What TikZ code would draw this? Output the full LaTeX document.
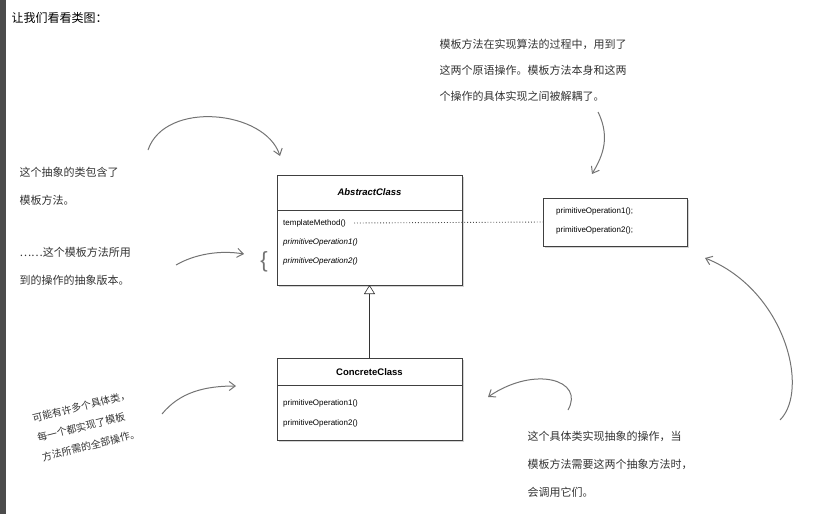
\documentclass[tikz,border=0pt]{standalone}
\usepackage{fontspec}
\setmainfont{Liberation Sans}
\newfontfamily\cjk{Noto Sans CJK SC}
\usetikzlibrary{shadows,arrows.meta,calc}
\begin{document}
\begin{tikzpicture}[x=1pt,y=-1pt,
  box/.style={draw=black!75,fill=white,line width=0.6pt,drop shadow={shadow xshift=2pt,shadow yshift=-2pt,opacity=0.35}},
  note/.style={font=\cjk\fontsize{11}{13}\selectfont,text=black!80,anchor=west,align=left},
  mth/.style={font=\fontsize{8}{9}\selectfont,anchor=west,inner sep=0pt},
  hand/.style={draw=black!55,line width=1pt,-{Straight Barb[length=6pt,width=9pt]}}]
\useasboundingbox (0,0) rectangle (829,514);
\fill[black!70] (0,0) rectangle (6,514);
\node[font=\cjk\fontsize{12}{14}\selectfont,anchor=west] (title) at (8,18) {让我们看看类图：};
% abstract class
\draw[box] (277,175) rectangle (462,285);
\draw[black!75,line width=0.6pt] (277,210) -- (462,210);
\node[font=\bfseries\itshape\fontsize{9.5}{11}\selectfont] (ac) at (369.5,192) {AbstractClass};
\node[mth] (tm) at (283,223) {templateMethod()};
\node[mth] (p1) at (283,242) {\itshape primitiveOperation1()};
\node[mth] (p2) at (283,261) {\itshape primitiveOperation2()};
% right box
\draw[box] (543,198) rectangle (687,246);
\node[mth] (r1) at (556,211) {primitiveOperation1();};
\node[mth] (r2) at (556,230) {primitiveOperation2();};
\coordinate (rb) at (543,222);
\draw[dotted,line width=0.9pt,black!70] ($(tm.east)+(8,0)$) -- (rb);
% concrete class
\draw[box] (277,358) rectangle (462,440);
\draw[black!75,line width=0.6pt] (277,385) -- (462,385);
\node[font=\bfseries\fontsize{9.5}{11}\selectfont] (cc) at (369.5,372) {ConcreteClass};
\node[mth] (c1) at (283,403) {primitiveOperation1()};
\node[mth] (c2) at (283,423) {primitiveOperation2()};
\coordinate (cctop) at (369.5,358);
\coordinate (acbot) at (369.5,285);
\draw[black!80,line width=0.6pt,-{Triangle[open,length=9pt,width=11pt]}] (cctop) -- (acbot);
% notes
\node[note] (n1) at (436,70) {模板方法在实现算法的过程中，用到了\\[13pt]这两个原语操作。模板方法本身和这两\\[13pt]个操作的具体实现之间被解耦了。};
\node[note] (n2) at (16,186) {这个抽象的类包含了\\[15pt]模板方法。};
\node[note] (n3) at (16,266) {……这个模板方法所用\\[15pt]到的操作的抽象版本。};
\node[note,rotate=14,anchor=center,font=\cjk\fontsize{10}{12}\selectfont] (n4) at (86,426) {可能有许多个具体类，\\[8pt]每一个都实现了模板\\[8pt]方法所需的全部操作。};
\node[note] (n5) at (524,464) {这个具体类实现抽象的操作，当\\[15pt]模板方法需要这两个抽象方法时，\\[15pt]会调用它们。};
\node[font=\fontsize{22}{22}\selectfont,text=black!55] (brace) at (264,262) {\{};
% arrows
\coordinate (a1s) at (598,112); \coordinate (a1e) at (592,174);
\draw[hand] (a1s) .. controls (612,140) and (600,160) .. (a1e);
\coordinate (a2s) at (148,150); \coordinate (a2e) at (280,156);
\draw[hand] (a2s) .. controls (165,100) and (265,110) .. (a2e);
\coordinate (a3s) at (176,265); \coordinate (a3e) at (244,254);
\draw[hand] (a3s) .. controls (195,254) and (220,250) .. (a3e);
\coordinate (a4s) at (162,414); \coordinate (a4e) at (236,386);
\draw[hand] (a4s) .. controls (180,392) and (205,386) .. (a4e);
\coordinate (a5s) at (568,410); \coordinate (a5e) at (488,397);
\draw[hand] (a5s) .. controls (585,380) and (535,365) .. (a5e);
\coordinate (a6s) at (780,420); \coordinate (a6e) at (705,258);
\draw[hand] (a6s) .. controls (810,390) and (785,290) .. (a6e);
\end{tikzpicture}
\end{document}
